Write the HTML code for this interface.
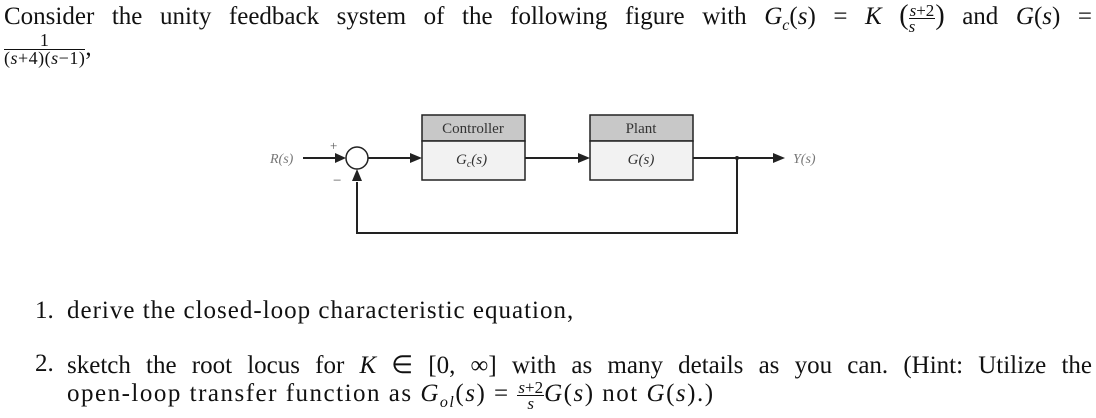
<!DOCTYPE html>
<html><head><meta charset="utf-8"><style>
body{margin:0;width:1096px;height:418px;background:#fff;position:relative;overflow:hidden;font-family:"Liberation Serif",serif;color:#111;font-size:25px}
.a{position:absolute;white-space:nowrap}
.j{position:absolute;text-align:justify;text-align-last:justify;white-space:normal}
i{font-style:italic}
.fr{display:inline-block;vertical-align:middle;text-align:center;font-size:17px;line-height:15px;letter-spacing:0}
.fr span{display:block}
.fr .n{border-bottom:1px solid #111;padding:0 1px}
svg text{font-family:"Liberation Serif",serif}
</style></head><body>
<div class="j" style="left:4px;top:1px;width:1088px;line-height:30px">Consider the unity feedback system of the following figure with <i>G<sub style="font-size:16px">c</sub></i>(<i>s</i>) = <i>K</i> <span style="font-size:28px">(</span><span class="fr"><span class="n"><i>s</i>+2</span><span><i>s</i></span></span><span style="font-size:28px">)</span> and <i>G</i>(<i>s</i>) =</div>
<div class="a" style="left:4px;top:32px"><span class="fr" style="font-size:18px;line-height:17px;letter-spacing:0.5px"><span class="n">1</span><span>(<i>s</i>+4)(<i>s</i>−1)</span></span>,</div>

<svg class="a" style="left:0;top:0" width="1096" height="418">
<rect x="422" y="115" width="103" height="26" fill="#c8c8c8" stroke="#222" stroke-width="1.5"/>
<rect x="422" y="141" width="103" height="39" fill="#f2f2f2" stroke="#222" stroke-width="1.5"/>
<rect x="590" y="115" width="103" height="26" fill="#c8c8c8" stroke="#222" stroke-width="1.5"/>
<rect x="590" y="141" width="103" height="39" fill="#f2f2f2" stroke="#222" stroke-width="1.5"/>
<text x="473" y="133" font-size="15" text-anchor="middle" fill="#333">Controller</text>
<text x="641" y="133" font-size="15" text-anchor="middle" fill="#333">Plant</text>
<text x="456" y="164" font-size="15" fill="#333" font-style="italic">G<tspan font-size="10" dy="3">c</tspan><tspan dy="-3">(s)</tspan></text>
<text x="641" y="164" font-size="15" text-anchor="middle" fill="#333" font-style="italic">G(s)</text>
<text x="270" y="163" font-size="14" fill="#777" font-style="italic">R(s)</text>
<text x="793" y="163" font-size="14" fill="#777" font-style="italic">Y(s)</text>
<text x="330" y="150" font-size="13" fill="#555">+</text>
<text x="333" y="185" font-size="15" fill="#555">−</text>
<circle cx="357" cy="158" r="11" fill="#fff" stroke="#222" stroke-width="1.5"/>
<g stroke="#222" stroke-width="2" fill="none">
<line x1="303" y1="158" x2="340" y2="158"/>
<line x1="368" y1="158" x2="410" y2="158"/>
<line x1="525" y1="158" x2="578" y2="158"/>
<line x1="693" y1="158" x2="773" y2="158"/>
<polyline points="737,158 737,233 357,233 357,182"/>
</g>
<g fill="#222">
<polygon points="346,158 335,153 335,163"/>
<polygon points="422,158 410,153 410,163"/>
<polygon points="590,158 578,153 578,163"/>
<polygon points="785,158 773,153 773,163"/>
<polygon points="357,169 352,181 362,181"/>
<circle cx="737" cy="158" r="2"/>
</g>
</svg>

<div class="a" style="left:35px;top:297px">1.</div>
<div class="a" style="left:67px;top:297px;letter-spacing:1px">derive the closed-loop characteristic equation,</div>
<div class="a" style="left:35px;top:350px">2.</div>
<div class="j" style="left:67px;top:350px;width:1025px">sketch the root locus for <i>K</i> ∈ [0, ∞] with as many details as you can. (Hint: Utilize the</div>
<div class="a" style="left:67px;top:380px;letter-spacing:1.5px">open-loop transfer function as <i>G<sub style="font-size:16px">ol</sub></i>(<i>s</i>) = <span class="fr"><span class="n"><i>s</i>+2</span><span><i>s</i></span></span><i>G</i>(<i>s</i>) not <i>G</i>(<i>s</i>).)</div>
</body></html>
